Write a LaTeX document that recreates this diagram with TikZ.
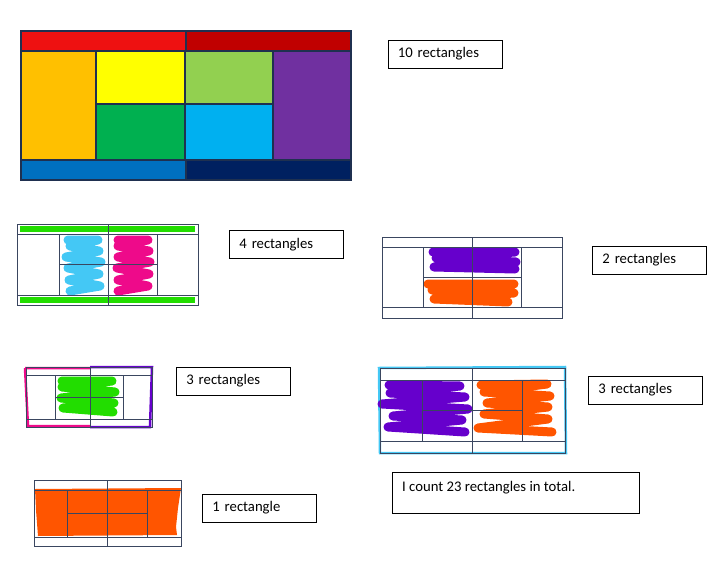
\documentclass[tikz,border=0pt]{standalone}
\usepackage{fontspec}
\setmainfont{Carlito}
\begin{document}
\begin{tikzpicture}[x=1pt,y=-1pt,
  lbl/.style={draw=black,line width=0.8pt,text width=94.2pt,align=left,minimum height=28pt,inner xsep=10pt,inner ysep=0pt,font=\fontsize{14.7}{17}\selectfont},
  tm/.style={draw=navyb,line width=2pt},
  cl/.style={draw=courtc,line width=1pt},
  scr/.style={line width=9pt,line cap=round,line join=round}]
\definecolor{navyb}{HTML}{1F3050}
\definecolor{courtc}{HTML}{3A4660}
\definecolor{cRed}{HTML}{EE1111}
\definecolor{cDRed}{HTML}{C00000}
\definecolor{cOr}{HTML}{FFC000}
\definecolor{cYel}{HTML}{FFFF00}
\definecolor{cGr}{HTML}{00B050}
\definecolor{cLGr}{HTML}{92D050}
\definecolor{cCy}{HTML}{00B0F0}
\definecolor{cPu}{HTML}{7030A0}
\definecolor{cBl}{HTML}{0070C0}
\definecolor{cNa}{HTML}{002060}
\definecolor{hGreen}{HTML}{22DD00}
\definecolor{hCyan}{HTML}{44C8F5}
\definecolor{hPink}{HTML}{EE0A8A}
\definecolor{hPurp}{HTML}{6600CC}
\definecolor{hOr}{HTML}{FF5500}
\useasboundingbox (0,0) rectangle (721,565);
% treemap
\fill[cRed] (21,31) rectangle (186,51);
\fill[cDRed] (186,31) rectangle (351,51);
\fill[cOr] (21,51) rectangle (96,160);
\fill[cYel] (96,51) rectangle (185,104);
\fill[cGr] (96,104) rectangle (185,160);
\fill[cLGr] (185,51) rectangle (273,104);
\fill[cCy] (185,104) rectangle (273,160);
\fill[cPu] (273,51) rectangle (351,160);
\fill[cBl] (21,160) rectangle (186,180);
\fill[cNa] (186,160) rectangle (351,180);
\draw[tm] (21,31) rectangle (351,180);
\draw[tm] (21,51)--(351,51) (21,160)--(351,160) (96,51)--(96,160) (185,51)--(185,160) (273,51)--(273,160) (96,104)--(273,104) (186,31)--(186,51) (186,160)--(186,180);
\newcommand{\mycourt}[9]{%
  \draw[cl] (#1,#2) rectangle (#3,#4);
  \draw[cl] (#1,#5)--(#3,#5) (#1,#6)--(#3,#6) (#7,#5)--(#7,#6) (#8,#5)--(#8,#6) (#9,#2)--(#9,#4);
  \draw[cl] (#7,{(#5+#6)/2})--(#8,{(#5+#6)/2});}
% court 1
\draw[hGreen,line width=6pt] (20,229)--(195,229) (20,300)--(195,300);
\draw[hCyan,scr] (68,240)--(98,240)--(70,246)--(99,251)--(66,257)--(101,262)--(68,268)--(99,274)--(69,280)--(100,286)--(70,291);
\draw[hPink,scr] (118,240)--(148,240)--(118,246)--(149,251)--(118,257)--(150,262)--(117,268)--(149,274)--(118,280)--(148,286)--(118,291);
\mycourt{17}{224}{198}{305}{234}{295}{59}{157}{108}
% court 2
\draw[hPurp,scr] (433,252)--(515,252)--(436,258)--(516,262)--(434,267)--(515,269);
\draw[hOr,scr] (428,284)--(514,284)--(432,290)--(514,293)--(434,299)--(508,302);
\mycourt{382}{237}{562}{318}{247}{307}{423}{521}{472}
% court 3
\draw[hPink,line width=2.5pt] (25,368)--(90,368) (25,368)--(28,426)--(90,426);
\draw[hPurp,line width=2.5pt] (90,367)--(152,367)--(150,427)--(90,427);
\draw[hGreen,scr] (62,381)--(112,381)--(62,387)--(115,392)--(61,398)--(114,403)--(63,408)--(113,412);
\mycourt{26}{367}{152}{427}{375}{419}{55}{123}{90}
% court 4
\draw[hCyan,line width=2.5pt] (379,368)--(565,367)--(566,453)--(380,453)--cycle;
\draw[hPurp,scr] (389,385)--(460,386)--(390,393)--(465,397)--(382,404)--(468,409)--(393,416)--(462,420)--(388,427)--(465,432);
\draw[hOr,scr] (481,385)--(547,384)--(484,392)--(550,396)--(487,403)--(548,407)--(484,414)--(548,419)--(478,428)--(552,432);
\mycourt{380}{368}{565}{453}{380}{441}{422}{522}{472}
% court 5
\fill[hOr] (35,489)--(181,488)--(178,508)--(176,527)--(177,535)--(38,536)--(36,510)--cycle;
\mycourt{34}{480}{181}{546}{490}{537}{67}{147}{107}
% labels
\node[lbl] (l10) at (445,54) {10 rectangles};
\node[lbl] (l4) at (286.5,244.5) {4 rectangles};
\node[lbl] (l2) at (649.5,260) {2 rectangles};
\node[lbl] (l3a) at (233.5,381) {3 rectangles};
\node[lbl] (l3b) at (645.5,390) {3 rectangles};
\node[lbl] (l1) at (259.5,508) {1 rectangle};
\draw[line width=0.8pt] (392,472) rectangle (639,513);
\node[anchor=west,font=\fontsize{14.7}{17}\selectfont,inner sep=0pt] (tot) at (402,488) {I count 23 rectangles in total.};
\end{tikzpicture}
\end{document}
